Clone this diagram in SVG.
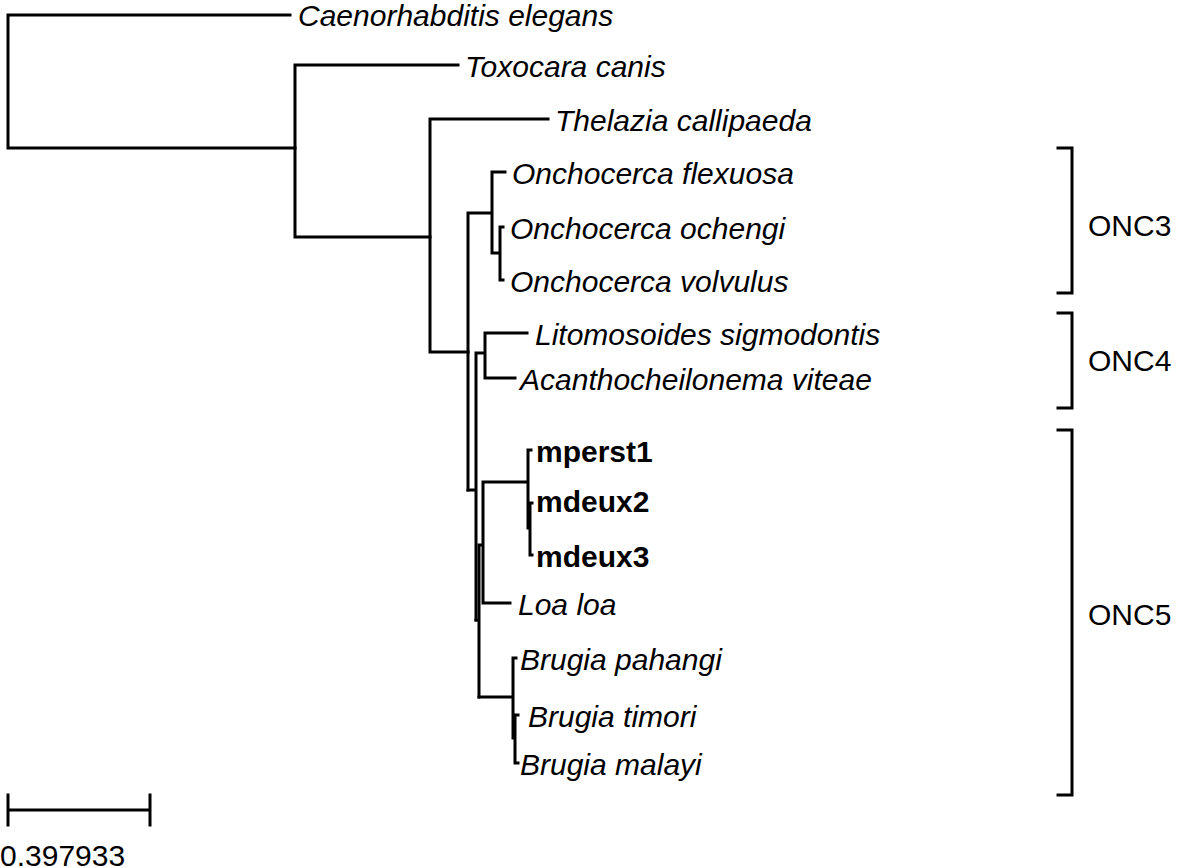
<svg xmlns="http://www.w3.org/2000/svg" width="1200" height="868" viewBox="0 0 1200 868">
<style>
.e{stroke:#000;stroke-width:3;fill:none;stroke-linecap:square}
.t{font-family:"Liberation Sans",Arial,sans-serif;font-size:30px;font-style:italic;fill:#000}
.b{font-family:"Liberation Sans",Arial,sans-serif;font-size:30px;font-weight:bold;fill:#000}
.c{font-family:"Liberation Sans",Arial,sans-serif;font-size:30px;fill:#000}
</style>
<rect width="1200" height="868" fill="#fff"/>
<g id="edges" class="e">
<path d="M8,15V148M8,15H290M8,148H295"/>
<path d="M295,65V237M295,65H458M295,237H430"/>
<path d="M430,119V352M430,119H548M430,352H468"/>
<path d="M468,213V490M468,213H492M492,172V253M492,172H505M492,253H500M500,227V280M500,227H503M500,280H503"/>
<path d="M468,490H476M476,353V620M476,353H485M485,333V378M485,333H527M485,378H515"/>
<path d="M476,620H479M479,545V697M479,545H483M483,482V603M483,482H528M528,450V528M528,450H531M528,528H530M530,503V555M530,503H532M530,555H532M483,603H510"/>
<path d="M479,697H513M513,658V738M513,658H516M513,738H515M515,715V763M515,715H518M515,763H518"/>
</g>
<g id="labels">
<text class="t" x="298" y="26">Caenorhabditis elegans</text>
<text class="t" x="465" y="77">Toxocara canis</text>
<text class="t" x="555" y="131">Thelazia callipaeda</text>
<text class="t" x="512" y="184">Onchocerca flexuosa</text>
<text class="t" x="510" y="239">Onchocerca ochengi</text>
<text class="t" x="510" y="292">Onchocerca volvulus</text>
<text class="t" x="535" y="345">Litomosoides sigmodontis</text>
<text class="t" x="520" y="390">Acanthocheilonema viteae</text>
<text class="b" x="536" y="462">mperst1</text>
<text class="b" x="536" y="512">mdeux2</text>
<text class="b" x="536" y="567">mdeux3</text>
<text class="t" x="518" y="615">Loa loa</text>
<text class="t" x="520" y="670">Brugia pahangi</text>
<text class="t" x="528" y="727">Brugia timori</text>
<text class="t" x="520" y="775">Brugia malayi</text>
</g>
<g id="clades">
<path class="e" stroke-linecap="butt" d="M1058,148H1072V293H1058M1058,313H1072V408H1058M1058,430H1072V795H1058"/>
<text class="c" x="1088" y="236">ONC3</text>
<text class="c" x="1088" y="371">ONC4</text>
<text class="c" x="1088" y="625">ONC5</text>
</g>
<g id="scale">
<path class="e" stroke-linecap="butt" d="M8,810H150M8,795V825M150,795V825"/>
<text class="c" x="0" y="866">0.397933</text>
</g>
</svg>
